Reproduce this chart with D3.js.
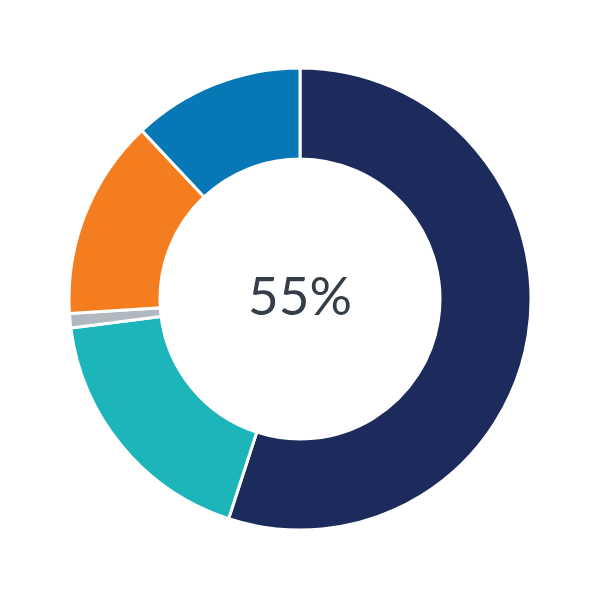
<!DOCTYPE html>
<html>
<head>
<meta charset="utf-8">
<script src="https://cdn.jsdelivr.net/npm/d3@7"></script>
<style>
  body { margin: 0; background: #fff; }
</style>
</head>
<body>
<div id="chart"></div>
<script>
// segment values, clockwise from 12 o'clock
var labels = ["A", "B", "C", "D", "E"];
var values = [55, 18, 1, 14, 12];
var colors = ["#1c2b5b", "#1cb5b9", "#b2b8c1", "#f47d20", "#0877b6"];
var centerLabel = "55%";

var width = 600, height = 599;
var outerR = 231, innerR = 140;

var svg = d3.select("#chart").append("svg")
  .attr("width", width)
  .attr("height", height);

var g = svg.append("g")
  .attr("transform", "translate(300,299)");

var pie = d3.pie().sort(null).value(function(d) { return d; });
var arc = d3.arc().innerRadius(innerR).outerRadius(outerR);

g.selectAll("path")
  .data(pie(values))
  .enter().append("path")
  .attr("d", arc)
  .attr("fill", function(d, i) { return colors[i]; })
  .attr("stroke", "#fff")
  .attr("stroke-width", 3);

g.append("text")
  .attr("text-anchor", "middle")
  .attr("dy", "0.36em")
  .attr("y", -3)
  .style("font-family", "Lato, sans-serif")
  .style("font-size", "53px")
  .style("fill", "#343d48")
  .text(centerLabel);
</script>
</body>
</html>
